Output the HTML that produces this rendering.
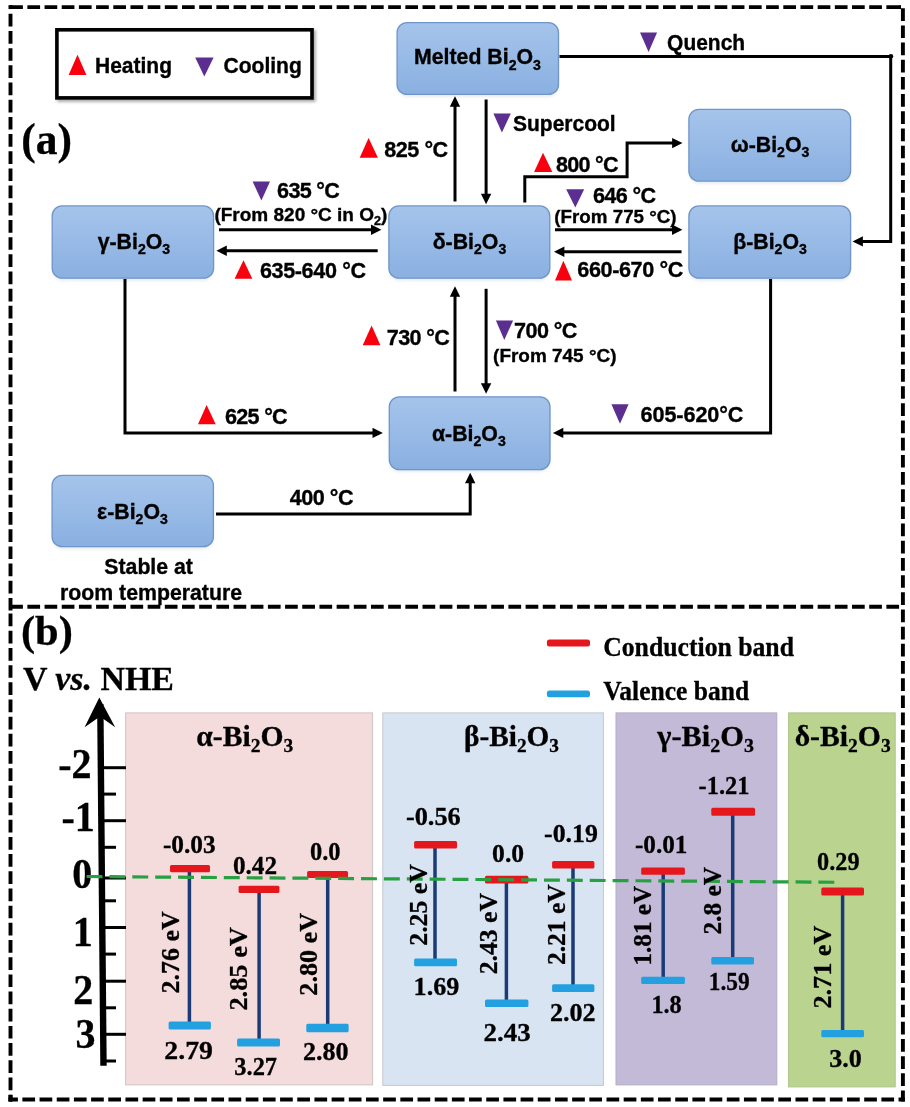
<!DOCTYPE html>
<html lang="en">
<head>
<meta charset="utf-8">
<title>Bi2O3 phase transitions and band positions</title>
<style>
html,body{margin:0;padding:0;background:#fff;}
body{width:910px;height:1107px;overflow:hidden;position:relative;}
svg{position:absolute;left:0;top:0;display:block;}
.s{font-family:"Liberation Sans",Arial,Helvetica,sans-serif;font-weight:bold;fill:#000;stroke:#000;stroke-width:.35;}
.t{font-family:"Liberation Serif","Times New Roman",Times,serif;font-weight:bold;fill:#000;stroke:#000;stroke-width:.3;}
.ln{stroke:#000;stroke-width:3;fill:none;}
.ah{fill:#000;stroke:none;}
.bx{fill:url(#gb);stroke:#7095c9;stroke-width:1.3;}
.bs{fill:#5f6f86;opacity:.14;filter:url(#blur2);}
.up{fill:#f8000c;}
.dn{fill:#5b2d90;}
</style>
</head>
<body>
<svg width="910" height="1107" viewBox="0 0 910 1107">
<defs>
<linearGradient id="gb" x1="0" y1="0" x2="0" y2="1">
<stop offset="0" stop-color="#a5c4eb"/>
<stop offset="1" stop-color="#8ab0e1"/>
</linearGradient>
<filter id="blur2" x="-10%" y="-10%" width="120%" height="130%"><feGaussianBlur stdDeviation="1.6"/></filter>
<filter id="soft" x="-2%" y="-2%" width="104%" height="104%"><feGaussianBlur stdDeviation="0.45"/></filter>
</defs>
<rect x="0" y="0" width="910" height="1107" fill="#fff"/>
<g id="all" filter="url(#soft)">
<rect x="125.6" y="712.9" width="247" height="372" fill="#f4dbdc" stroke="#cfc4c6" stroke-width="1"/>
<rect x="382.8" y="712.9" width="220.6" height="372.5" fill="#d9e4f2" stroke="#c2c8d2" stroke-width="1"/>
<rect x="616" y="712.9" width="160.8" height="372" fill="#c3bad8" stroke="#b3adc4" stroke-width="1"/>
<rect x="788.6" y="712.9" width="106.6" height="374" fill="#bad490" stroke="#adc48a" stroke-width="1"/>
<g id="frame" stroke="#000" stroke-width="3.9" fill="none" stroke-dasharray="12.7 4.48">
<line x1="10.2" y1="7.1" x2="901" y2="7.1"/>
<line x1="10.2" y1="606.8" x2="901" y2="606.8"/>
<line x1="8.5" y1="1099.5" x2="904.9" y2="1099.5" stroke-dashoffset="3.3"/>
<line x1="10.5" y1="13.8" x2="10.5" y2="611.4"/>
<line x1="10.5" y1="613.6" x2="10.5" y2="1101.4"/>
<line x1="902.9" y1="8.2" x2="902.9" y2="1101.4"/>
</g>
<rect x="8.5" y="5.15" width="4" height="3.9" fill="#000"/>
<rect x="8.5" y="1094.9" width="4" height="6.5" fill="#000"/>
<rect x="899" y="5.15" width="2" height="3.9" fill="#000"/>
<rect x="58.9" y="31.8" width="255.1" height="68.1" fill="none" stroke="#555" stroke-width="3.5" opacity=".55" filter="url(#blur2)"/>
<rect x="56.9" y="29.8" width="255.1" height="68.1" fill="#fff" stroke="#000" stroke-width="3.6"/>
<polygon class="up" points="77.5,54.7 86.4,74.9 68.6,74.9"/>
<text class="s" x="95.0" y="73.0" font-size="21.3" text-anchor="start" textLength="77.0" lengthAdjust="spacingAndGlyphs">Heating</text>
<polygon class="dn" points="195.2,57.6 213.6,57.6 204.3,76.6"/>
<text class="s" x="223.5" y="73.0" font-size="21.3" text-anchor="start" textLength="78.3" lengthAdjust="spacingAndGlyphs">Cooling</text>
<text class="t" x="21.3" y="153.5" font-size="43.5" text-anchor="start">(a)</text>
<rect class="bs" x="397.6" y="25.1" width="160.4" height="71.8" rx="10"/><rect class="bx" x="397.1" y="22.6" width="161.4" height="71.8" rx="10"/>
<rect class="bs" x="52.7" y="208.4" width="160.4" height="72.3" rx="10"/><rect class="bx" x="52.2" y="205.9" width="161.4" height="72.3" rx="10"/>
<rect class="bs" x="389.4" y="208.4" width="159.9" height="72.3" rx="10"/><rect class="bx" x="388.9" y="205.9" width="160.9" height="72.3" rx="10"/>
<rect class="bs" x="689.4" y="111.8" width="160.7" height="71.8" rx="10"/><rect class="bx" x="688.9" y="109.3" width="161.7" height="71.8" rx="10"/>
<rect class="bs" x="689.4" y="208.4" width="160.7" height="72.3" rx="10"/><rect class="bx" x="688.9" y="205.9" width="161.7" height="72.3" rx="10"/>
<rect class="bs" x="389.8" y="399.3" width="159.7" height="72.8" rx="10"/><rect class="bx" x="389.3" y="396.8" width="160.7" height="72.8" rx="10"/>
<rect class="bs" x="52.6" y="477.9" width="160.3" height="71.3" rx="10"/><rect class="bx" x="52.1" y="475.4" width="161.3" height="71.3" rx="10"/>
<text class="s" x="414.0" y="64.4" font-size="21.3" text-anchor="start">Melted Bi<tspan font-size="14.1" dy="5.3">2</tspan><tspan dy="-5.3">O</tspan><tspan font-size="14.1" dy="5.3">3</tspan></text>
<text class="s" x="97.7" y="248.7" font-size="21.3" text-anchor="start">γ-Bi<tspan font-size="14.1" dy="5.3">2</tspan><tspan dy="-5.3">O</tspan><tspan font-size="14.1" dy="5.3">3</tspan></text>
<text class="s" x="432.7" y="248.7" font-size="21.3" text-anchor="start">δ-Bi<tspan font-size="14.1" dy="5.3">2</tspan><tspan dy="-5.3">O</tspan><tspan font-size="14.1" dy="5.3">3</tspan></text>
<text class="s" x="730.7" y="151.9" font-size="21.3" text-anchor="start">ω-Bi<tspan font-size="14.1" dy="5.3">2</tspan><tspan dy="-5.3">O</tspan><tspan font-size="14.1" dy="5.3">3</tspan></text>
<text class="s" x="733.2" y="248.7" font-size="21.3" text-anchor="start">β-Bi<tspan font-size="14.1" dy="5.3">2</tspan><tspan dy="-5.3">O</tspan><tspan font-size="14.1" dy="5.3">3</tspan></text>
<text class="s" x="432.0" y="440.9" font-size="21.3" text-anchor="start">α-Bi<tspan font-size="14.1" dy="5.3">2</tspan><tspan dy="-5.3">O</tspan><tspan font-size="14.1" dy="5.3">3</tspan></text>
<text class="s" x="97.1" y="519.1" font-size="21.3" text-anchor="start">ε-Bi<tspan font-size="14.1" dy="5.3">2</tspan><tspan dy="-5.3">O</tspan><tspan font-size="14.1" dy="5.3">3</tspan></text>
<polyline class="ln" points="455.0,201.5 455.0,105.7"/><polygon class="ah" points="455.0,96.3 460.2,106.7 449.8,106.7"/>
<polyline class="ln" points="486.1,99.5 486.1,194.8"/><polygon class="ah" points="486.1,204.2 480.9,193.8 491.3,193.8"/>
<polyline class="ln" points="559.5,56.6 890.7,56.6 890.7,241.4 861.9,241.4"/><polygon class="ah" points="852.5,241.4 862.9,236.2 862.9,246.6"/>
<circle cx="890.9" cy="56.3" r="2.3" fill="#000"/>
<polyline class="ln" points="524.8,202.5 524.8,176.7 627.1,176.7 627.1,143.1 673.1,143.1"/><polygon class="ah" points="682.5,143.1 672.1,148.3 672.1,137.9"/>
<polyline class="ln" points="219.0,229.7 372.0,229.7"/><polygon class="ah" points="381.4,229.7 371.0,234.9 371.0,224.5"/>
<polyline class="ln" points="377.7,250.8 225.8,250.8"/><polygon class="ah" points="216.4,250.8 226.8,245.6 226.8,256.0"/>
<polyline class="ln" points="555.0,229.8 673.0,229.8"/><polygon class="ah" points="682.4,229.8 672.0,235.0 672.0,224.6"/>
<polyline class="ln" points="681.5,251.7 563.4,251.7"/><polygon class="ah" points="554.0,251.7 564.4,246.5 564.4,256.9"/>
<polyline class="ln" points="455.0,391.5 455.0,295.7"/><polygon class="ah" points="455.0,286.3 460.2,296.7 449.8,296.7"/>
<polyline class="ln" points="486.1,288.8 486.1,384.3"/><polygon class="ah" points="486.1,393.7 480.9,383.3 491.3,383.3"/>
<polyline class="ln" points="125.0,279.0 125.0,432.9 373.5,432.9"/><polygon class="ah" points="382.9,432.9 372.5,438.1 372.5,427.7"/>
<polyline class="ln" points="770.6,279.0 770.6,432.9 562.3,432.9"/><polygon class="ah" points="552.9,432.9 563.3,427.7 563.3,438.1"/>
<polyline class="ln" points="216.0,514.1 470.2,514.1 470.2,482.2"/><polygon class="ah" points="470.2,472.8 475.4,483.2 465.0,483.2"/>
<polygon class="up" points="368.6,138.0 377.9,157.7 359.7,157.7"/>
<text class="s" x="384.2" y="157.0" font-size="21.6" text-anchor="start" textLength="64.0" lengthAdjust="spacing">825 °C</text>
<polygon class="dn" points="493.4,113.4 510.8,113.4 501.9,132.5"/>
<text class="s" x="513.0" y="131.0" font-size="21.3" text-anchor="start" textLength="102.7" lengthAdjust="spacingAndGlyphs">Supercool</text>
<polygon class="dn" points="640.0,32.5 657.1,32.5 648.6,52.0"/>
<text class="s" x="667.1" y="50.0" font-size="21.3" text-anchor="start" textLength="78.0" lengthAdjust="spacingAndGlyphs">Quench</text>
<polygon class="up" points="543.0,152.7 552.3,172.1 534.1,172.1"/>
<text class="s" x="556.1" y="172.1" font-size="21.6" text-anchor="start" textLength="62.4" lengthAdjust="spacing">800 °C</text>
<polygon class="dn" points="566.2,189.3 584.2,189.3 575.3,207.5"/>
<text class="s" x="593.0" y="203.0" font-size="21.6" text-anchor="start" textLength="63.0" lengthAdjust="spacing">646 °C</text>
<text class="s" x="554.3" y="222.6" font-size="19.0" text-anchor="start" textLength="122.3" lengthAdjust="spacingAndGlyphs">(From 775 °C)</text>
<polygon class="dn" points="252.6,181.5 270.0,181.5 261.4,200.4"/>
<text class="s" x="277.1" y="197.9" font-size="21.6" text-anchor="start" textLength="62.8" lengthAdjust="spacing">635 °C</text>
<text class="s" x="214.4" y="220.7" font-size="19">(From 820 °C in O<tspan font-size="12.5" dy="4.5">2</tspan><tspan dy="-4.5">)</tspan></text>
<polygon class="up" points="243.5,260.3 252.3,278.8 234.6,278.8"/>
<text class="s" x="259.9" y="277.5" font-size="21.6" text-anchor="start" textLength="106.1" lengthAdjust="spacing">635-640 °C</text>
<polygon class="up" points="563.4,260.7 572.0,280.5 555.0,280.5"/>
<text class="s" x="577.3" y="277.4" font-size="21.6" text-anchor="start" textLength="106.0" lengthAdjust="spacing">660-670 °C</text>
<polygon class="up" points="371.6,325.5 380.4,345.2 362.7,345.2"/>
<text class="s" x="386.8" y="345.0" font-size="21.6" text-anchor="start" textLength="63.1" lengthAdjust="spacing">730 °C</text>
<polygon class="dn" points="495.9,320.4 513.1,320.4 504.3,339.9"/>
<text class="s" x="514.1" y="338.1" font-size="21.6" text-anchor="start" textLength="63.2" lengthAdjust="spacing">700 °C</text>
<text class="s" x="493.1" y="362.1" font-size="19.0" text-anchor="start" textLength="123.4" lengthAdjust="spacingAndGlyphs">(From 745 °C)</text>
<polygon class="up" points="206.6,404.9 215.7,424.3 198.0,424.3"/>
<text class="s" x="224.9" y="423.7" font-size="21.6" text-anchor="start" textLength="62.8" lengthAdjust="spacing">625 °C</text>
<polygon class="dn" points="611.4,404.3 628.6,404.3 620.0,423.7"/>
<text class="s" x="640.6" y="422.3" font-size="21.6" text-anchor="start" textLength="102.8" lengthAdjust="spacing">605-620°C</text>
<text class="s" x="289.8" y="505.4" font-size="21.6" text-anchor="start" textLength="63.7" lengthAdjust="spacing">400 °C</text>
<text class="s" x="104.3" y="574.3" font-size="21.3" text-anchor="start" textLength="88.6" lengthAdjust="spacingAndGlyphs">Stable at</text>
<text class="s" x="60.0" y="600.0" font-size="21.3" text-anchor="start" textLength="182.0" lengthAdjust="spacingAndGlyphs">room temperature</text>
<text class="t" x="20.9" y="644.8" font-size="42.5" text-anchor="start">(b)</text>
<text class="t" x="22.9" y="690.4" font-size="33" textLength="151" lengthAdjust="spacingAndGlyphs">V <tspan font-style="italic">vs.</tspan> NHE</text>
<rect x="546.9" y="639.6" width="43.1" height="6.8" rx="2.5" fill="#e5181e"/>
<rect x="546.9" y="690.4" width="43.1" height="6.8" rx="2.5" fill="#22a0df"/>
<text class="t" x="603.2" y="655.6" font-size="26.5" textLength="190.8" lengthAdjust="spacingAndGlyphs">Conduction band</text>
<text class="t" x="603.2" y="699.6" font-size="26.5" textLength="145.9" lengthAdjust="spacingAndGlyphs">Valence band</text>
<text class="t" x="196.3" y="745.8" font-size="29.3" text-anchor="start" textLength="97.0" lengthAdjust="spacingAndGlyphs">α-Bi<tspan font-size="19.3" dy="6.2">2</tspan><tspan dy="-6.2">O</tspan><tspan font-size="19.3" dy="6.2">3</tspan></text>
<text class="t" x="464.0" y="746.1" font-size="29.3" text-anchor="start" textLength="95.0" lengthAdjust="spacingAndGlyphs">β-Bi<tspan font-size="19.3" dy="6.2">2</tspan><tspan dy="-6.2">O</tspan><tspan font-size="19.3" dy="6.2">3</tspan></text>
<text class="t" x="657.3" y="746.1" font-size="29.3" text-anchor="start" textLength="96.6" lengthAdjust="spacingAndGlyphs">γ-Bi<tspan font-size="19.3" dy="6.2">2</tspan><tspan dy="-6.2">O</tspan><tspan font-size="19.3" dy="6.2">3</tspan></text>
<text class="t" x="794.7" y="746.1" font-size="29.3" text-anchor="start" textLength="96.0" lengthAdjust="spacingAndGlyphs">δ-Bi<tspan font-size="19.3" dy="6.2">2</tspan><tspan dy="-6.2">O</tspan><tspan font-size="19.3" dy="6.2">3</tspan></text>
<line x1="100.3" y1="704" x2="103.5" y2="1065.8" stroke="#000" stroke-width="6.4"/>
<polygon points="99.3,697.4 115.2,727.2 100,716.5 84.6,727.2" fill="#000"/>
<line x1="100.9" y1="767.7" x2="126.0" y2="767.7" stroke="#000" stroke-width="3"/>
<line x1="101.1" y1="794.1" x2="116.0" y2="794.1" stroke="#000" stroke-width="3"/>
<line x1="101.3" y1="820.7" x2="126.0" y2="820.7" stroke="#000" stroke-width="3"/>
<line x1="101.6" y1="847.3" x2="116.0" y2="847.3" stroke="#000" stroke-width="3"/>
<line x1="101.8" y1="878.0" x2="126.0" y2="878.0" stroke="#000" stroke-width="3"/>
<line x1="102.0" y1="900.8" x2="116.0" y2="900.8" stroke="#000" stroke-width="3"/>
<line x1="102.3" y1="927.5" x2="126.0" y2="927.5" stroke="#000" stroke-width="3"/>
<line x1="102.5" y1="954.1" x2="116.0" y2="954.1" stroke="#000" stroke-width="3"/>
<line x1="102.8" y1="981.2" x2="126.0" y2="981.2" stroke="#000" stroke-width="3"/>
<line x1="103.0" y1="1007.8" x2="116.0" y2="1007.8" stroke="#000" stroke-width="3"/>
<line x1="103.2" y1="1034.3" x2="126.0" y2="1034.3" stroke="#000" stroke-width="3"/>
<line x1="103.5" y1="1061.0" x2="116.0" y2="1061.0" stroke="#000" stroke-width="3"/>
<text class="t" transform="translate(58.2 777.7) scale(1 1.080)" font-size="40.0">-2</text>
<text class="t" transform="translate(61.4 831.0) scale(1 1.080)" font-size="40.0">-1</text>
<text class="t" transform="translate(72.3 888.0) scale(1 1.080)" font-size="40.0">0</text>
<text class="t" transform="translate(72.8 946.0) scale(1 1.080)" font-size="40.0">1</text>
<text class="t" transform="translate(73.3 1004.0) scale(1 1.080)" font-size="40.0">2</text>
<text class="t" transform="translate(75.6 1048.3) scale(1 1.080)" font-size="40.0">3</text>
<line x1="189.4" y1="871.3" x2="189.4" y2="1022.4" stroke="#1b3b76" stroke-width="3.5"/><rect x="170.0" y="865.0" width="40.0" height="7.3" rx="1.5" fill="#e5181e"/><rect x="168.6" y="1021.4" width="42.3" height="8.0" rx="1.5" fill="#22a0df"/>
<line x1="259.1" y1="891.9" x2="259.1" y2="1039.6" stroke="#1b3b76" stroke-width="3.5"/><rect x="238.6" y="885.7" width="40.8" height="7.2" rx="1.5" fill="#e5181e"/><rect x="237.1" y="1038.6" width="42.9" height="8.0" rx="1.5" fill="#22a0df"/>
<line x1="327.7" y1="877.0" x2="327.7" y2="1024.7" stroke="#1b3b76" stroke-width="3.5"/><rect x="307.1" y="870.9" width="40.9" height="7.1" rx="1.5" fill="#e5181e"/><rect x="306.3" y="1023.7" width="42.3" height="8.6" rx="1.5" fill="#22a0df"/>
<line x1="435.0" y1="847.6" x2="435.0" y2="959.6" stroke="#1b3b76" stroke-width="3.5"/><rect x="414.1" y="840.9" width="42.9" height="7.7" rx="1.5" fill="#e5181e"/><rect x="414.1" y="958.6" width="42.9" height="7.7" rx="1.5" fill="#22a0df"/>
<line x1="506.4" y1="882.4" x2="506.4" y2="1000.4" stroke="#1b3b76" stroke-width="3.5"/><rect x="485.0" y="875.7" width="43.4" height="7.7" rx="1.5" fill="#e5181e"/><rect x="485.0" y="999.4" width="43.4" height="7.7" rx="1.5" fill="#22a0df"/>
<line x1="573.0" y1="867.6" x2="573.0" y2="985.3" stroke="#1b3b76" stroke-width="3.5"/><rect x="552.1" y="860.9" width="42.3" height="7.7" rx="1.5" fill="#e5181e"/><rect x="552.1" y="984.3" width="42.3" height="7.7" rx="1.5" fill="#22a0df"/>
<line x1="663.2" y1="873.7" x2="663.2" y2="977.7" stroke="#1b3b76" stroke-width="3.5"/><rect x="641.2" y="867.4" width="43.7" height="7.3" rx="1.5" fill="#e5181e"/><rect x="641.2" y="976.7" width="43.7" height="7.3" rx="1.5" fill="#22a0df"/>
<line x1="732.7" y1="814.8" x2="732.7" y2="957.9" stroke="#1b3b76" stroke-width="3.5"/><rect x="711.3" y="807.8" width="43.7" height="8.0" rx="1.5" fill="#e5181e"/><rect x="711.3" y="956.9" width="42.7" height="7.7" rx="1.5" fill="#22a0df"/>
<line x1="842.6" y1="894.4" x2="842.6" y2="1030.9" stroke="#1b3b76" stroke-width="3.5"/><rect x="821.3" y="887.5" width="42.7" height="7.9" rx="1.5" fill="#e5181e"/><rect x="821.3" y="1029.9" width="42.7" height="7.3" rx="1.5" fill="#22a0df"/>
<line x1="86.6" y1="876.5" x2="838.8" y2="882.3" stroke="#27a03f" stroke-width="3.2" stroke-dasharray="15.9 6.97"/>
<text class="t" x="162.9" y="852.9" font-size="25.5" textLength="52.8" lengthAdjust="spacingAndGlyphs">-0.03</text>
<text class="t" x="164.3" y="1058.6" font-size="25.5" textLength="48.6" lengthAdjust="spacingAndGlyphs">2.79</text>
<text class="t" x="232.9" y="874.3" font-size="25.5" textLength="44.2" lengthAdjust="spacingAndGlyphs">0.42</text>
<text class="t" x="234.3" y="1075.1" font-size="25.5" textLength="42.8" lengthAdjust="spacingAndGlyphs">3.27</text>
<text class="t" x="310.0" y="860.0" font-size="25.5" textLength="30.6" lengthAdjust="spacingAndGlyphs">0.0</text>
<text class="t" x="302.9" y="1060.0" font-size="25.5" textLength="45.7" lengthAdjust="spacingAndGlyphs">2.80</text>
<text class="t" x="405.9" y="824.9" font-size="25.5" textLength="54.8" lengthAdjust="spacingAndGlyphs">-0.56</text>
<text class="t" x="413.6" y="994.9" font-size="25.5" textLength="45.7" lengthAdjust="spacingAndGlyphs">1.69</text>
<text class="t" x="492.1" y="862.3" font-size="25.5" textLength="32.0" lengthAdjust="spacingAndGlyphs">0.0</text>
<text class="t" x="483.6" y="1041.4" font-size="25.5" textLength="47.1" lengthAdjust="spacingAndGlyphs">2.43</text>
<text class="t" x="544.1" y="842.3" font-size="25.5" textLength="53.8" lengthAdjust="spacingAndGlyphs">-0.19</text>
<text class="t" x="549.9" y="1021.4" font-size="25.5" textLength="45.7" lengthAdjust="spacingAndGlyphs">2.02</text>
<text class="t" x="634.9" y="853.1" font-size="25.5" textLength="52.5" lengthAdjust="spacingAndGlyphs">-0.01</text>
<text class="t" x="651.4" y="1013.3" font-size="25.5" textLength="30.3" lengthAdjust="spacingAndGlyphs">1.8</text>
<text class="t" x="698.6" y="794.4" font-size="25.5" textLength="51.0" lengthAdjust="spacingAndGlyphs">-1.21</text>
<text class="t" x="708.8" y="990.1" font-size="25.5" textLength="40.8" lengthAdjust="spacingAndGlyphs">1.59</text>
<text class="t" x="817.1" y="869.9" font-size="25.5" textLength="42.4" lengthAdjust="spacingAndGlyphs">0.29</text>
<text class="t" x="829.2" y="1066.6" font-size="25.5" textLength="32.6" lengthAdjust="spacingAndGlyphs">3.0</text>
<text class="t" transform="translate(179.4 993.4) rotate(-90)" x="0" y="0" font-size="25.5" textLength="82.0" lengthAdjust="spacingAndGlyphs">2.76 eV</text>
<text class="t" transform="translate(247.1 1010.6) rotate(-90)" x="0" y="0" font-size="25.5" textLength="83.5" lengthAdjust="spacingAndGlyphs">2.85 eV</text>
<text class="t" transform="translate(316.6 995.7) rotate(-90)" x="0" y="0" font-size="25.5" textLength="82.8" lengthAdjust="spacingAndGlyphs">2.80 eV</text>
<text class="t" transform="translate(427.3 945.7) rotate(-90)" x="0" y="0" font-size="25.5" textLength="81.4" lengthAdjust="spacingAndGlyphs">2.25 eV</text>
<text class="t" transform="translate(497.3 974.3) rotate(-90)" x="0" y="0" font-size="25.5" textLength="81.4" lengthAdjust="spacingAndGlyphs">2.43 eV</text>
<text class="t" transform="translate(565.0 965.1) rotate(-90)" x="0" y="0" font-size="25.5" textLength="80.8" lengthAdjust="spacingAndGlyphs">2.21 eV</text>
<text class="t" transform="translate(650.8 965.5) rotate(-90)" x="0" y="0" font-size="25.5" textLength="79.6" lengthAdjust="spacingAndGlyphs">1.81 eV</text>
<text class="t" transform="translate(720.6 934.6) rotate(-90)" x="0" y="0" font-size="25.5" textLength="67.8" lengthAdjust="spacingAndGlyphs">2.8 eV</text>
<text class="t" transform="translate(830.8 1008.6) rotate(-90)" x="0" y="0" font-size="25.5" textLength="82.9" lengthAdjust="spacingAndGlyphs">2.71 eV</text>
</g>
</svg>
</body>
</html>
